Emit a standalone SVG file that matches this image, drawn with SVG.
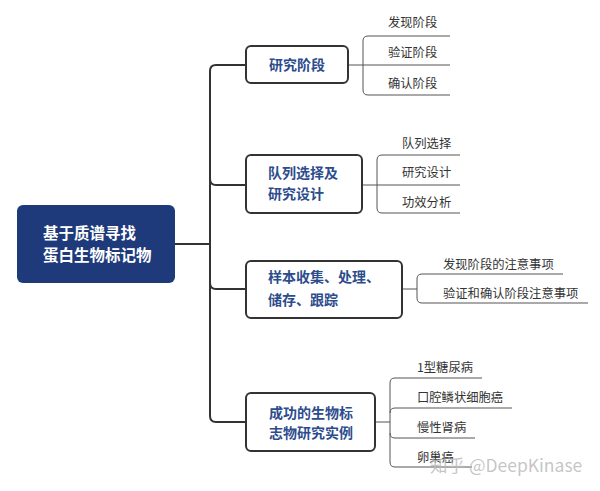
<svg xmlns="http://www.w3.org/2000/svg" width="600" height="491" viewBox="0 0 600 491">
<style>
text{font-family:"Noto Sans CJK SC","Noto Sans",sans-serif}
.box{fill:#fff;stroke:#333;stroke-width:2}
.bt{font-size:14px;font-weight:bold;fill:#2c4c8c}
.lt{font-size:12.3px;fill:#333}
.trunk{fill:none;stroke:#333;stroke-width:2}
.leaf{fill:none;stroke:#555;stroke-width:1}
</style>
<rect width="600" height="491" fill="#fff"/>
<g id="connectors">
<path class="trunk" d="M175,244 H210 M246,65 H216 Q210,65 210,71 V416 Q210,422 216,422 H246 M210,179 Q210,185 216,185 H246 M210,283 Q210,289 216,289 H246"/>
<path class="leaf" d="M348,65 H450 M368,36 Q363,36 363,41 V90 Q363,95 368,95 H450 M368,36 H450"/>
<path class="leaf" d="M362,185 H460 M382,155 Q377,155 377,160 V208 Q377,213 382,213 H460 M382,155 H460"/>
<path class="leaf" d="M402,289 H417 M422,274 Q417,274 417,279 V298 Q417,303 422,303 H588 M422,274 H563"/>
<path class="leaf" d="M375,422 H390 M395,378 Q390,378 390,383 V462 Q390,467 395,467 H472 M395,378 H482 M390,413 Q390,408 395,408 H512 M390,433 Q390,438 395,438 H475"/>
</g>
<g id="root">
<rect x="17" y="205" width="158" height="78" rx="6" fill="#1e3a7b"/>
<text x="43" y="239" font-size="15.5" font-weight="bold" fill="#fff">基于质谱寻找</text>
<text x="43" y="261" font-size="15.5" font-weight="bold" fill="#fff">蛋白生物标记物</text>
</g>
<g id="n1">
<rect class="box" x="246" y="46" width="102" height="37" rx="5"/>
<text class="bt" x="297" y="70" text-anchor="middle">研究阶段</text>
</g>
<g id="n2">
<rect class="box" x="246" y="155" width="116" height="58" rx="5"/>
<text class="bt" x="268" y="178">队列选择及</text>
<text class="bt" x="268" y="199">研究设计</text>
</g>
<g id="n3">
<rect class="box" x="246" y="261" width="156" height="57" rx="5"/>
<text class="bt" x="268" y="282">样本收集、处理、</text>
<text class="bt" x="268" y="305">储存、跟踪</text>
</g>
<g id="n4">
<rect class="box" x="246" y="393" width="129" height="58" rx="5"/>
<text class="bt" x="269" y="418">成功的生物标</text>
<text class="bt" x="269" y="438">志物研究实例</text>
</g>
<g id="leaves">
<text class="lt" x="388" y="27">发现阶段</text>
<text class="lt" x="388" y="57">验证阶段</text>
<text class="lt" x="388" y="88">确认阶段</text>
<text class="lt" x="402" y="148">队列选择</text>
<text class="lt" x="402" y="177">研究设计</text>
<text class="lt" x="402" y="207">功效分析</text>
<text class="lt" x="443" y="269">发现阶段的注意事项</text>
<text class="lt" x="443" y="298">验证和确认阶段注意事项</text>
<text class="lt" x="417" y="372">1型糖尿病</text>
<text class="lt" x="417" y="402">口腔鳞状细胞癌</text>
<text class="lt" x="417" y="432">慢性肾病</text>
<text class="lt" x="417" y="462">卵巢癌</text>
</g>
<g id="watermark">
<text x="430" y="472" font-size="17.5" fill="#bbb" fill-opacity="0.85">知乎 @DeepKinase</text>
</g>
</svg>
